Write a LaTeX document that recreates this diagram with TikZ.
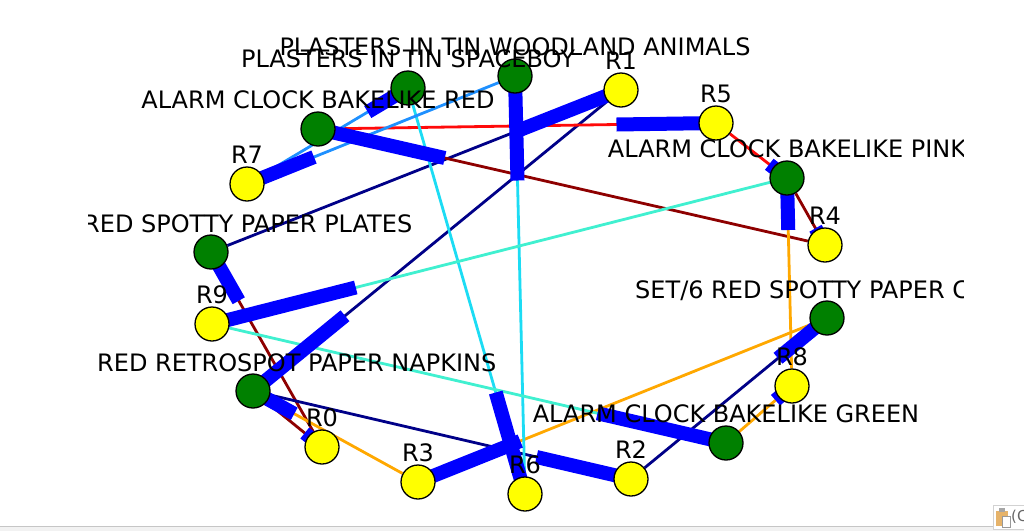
\documentclass[tikz,border=0pt]{standalone}
\usepackage{fontspec}
\setmainfont{DejaVu Sans}
\usepackage{tikz}
\usetikzlibrary{calc,positioning}
\definecolor{itemc}{HTML}{008000}
\definecolor{rulec}{HTML}{FFFF00}
\definecolor{headc}{HTML}{0000FF}
\definecolor{jnavy}{HTML}{000088}
\definecolor{jsky}{HTML}{1E90FF}
\definecolor{jcyan}{HTML}{1CDCF4}
\definecolor{jturq}{HTML}{40F0D0}
\definecolor{jorange}{HTML}{FFA800}
\definecolor{jred}{HTML}{FF0A0A}
\definecolor{jdark}{HTML}{8E0000}
\definecolor{pastec}{HTML}{E6B36A}
\pgfdeclarelayer{bg}
\pgfsetlayers{bg,main}
\tikzset{
  itm/.style={circle, fill=itemc, draw=black, line width=1.3pt, minimum size=34pt, inner sep=0pt},
  rul/.style={itm, fill=rulec},
  link/.style={line width=2.8pt},
  stub/.style={draw=headc, line width=14pt, line cap=butt},
  lab/.style={text=black, font=\fontsize{24}{28}\selectfont, inner sep=0pt},
}
\def\links{rrn/r0/jdark, r0/rspp/jdark, rspp/r1/jnavy, r1/rrn/jnavy,
  rrn/r2/jnavy, r2/set6/jnavy, set6/r3/jorange, r3/rrn/jorange,
  acp/r4/jdark, r4/acr/jdark, acr/r5/jred, r5/acp/jred,
  ps/r6/jcyan, r6/pw/jcyan, pw/r7/jsky, r7/ps/jsky,
  acg/r8/jorange, r8/acp/jorange, acp/r9/jturq, r9/acg/jturq}
\begin{document}
\begin{tikzpicture}[x=1pt,y=-1pt]
  \useasboundingbox (0,0) rectangle (1024,531);

  \begin{scope}
  \clip (88,0) rectangle (963,531);
  % items
  \node[itm] (pw)   at (515,76)  {};
  \node[itm] (ps)   at (408,88)  {};
  \node[itm] (acr)  at (318,129) {};
  \node[itm] (acp)  at (787,178) {};
  \node[itm] (rspp) at (211,252) {};
  \node[itm] (set6) at (827,318) {};
  \node[itm] (rrn)  at (253,391) {};
  \node[itm] (acg)  at (726,443) {};
  % rules
  \node[rul] (r0) at (322,447) {};
  \node[rul] (r1) at (621,90)  {};
  \node[rul] (r2) at (631,479) {};
  \node[rul] (r3) at (418,482) {};
  \node[rul] (r4) at (825,245) {};
  \node[rul] (r5) at (716,123) {};
  \node[rul] (r6) at (525,494) {};
  \node[rul] (r7) at (247,184) {};
  \node[rul] (r8) at (792,386) {};
  \node[rul] (r9) at (212,324) {};

  \foreach \n in {0,...,9}
    \node[lab, above=2.5pt of r\n] (r\n t) {R\n};
  \node[lab, above=2.5pt of pw]  (pwt)  {PLASTERS IN TIN WOODLAND ANIMALS};
  \node[lab, above=2.5pt of ps]  (pst)  {PLASTERS IN TIN SPACEBOY};
  \node[lab, above=2.5pt of acr] (acrt) {ALARM CLOCK BAKELIKE RED};
  \node[lab, above=2.5pt of acp] (acpt) {ALARM CLOCK BAKELIKE PINK};
  \node[lab, above=2.5pt of acg] (acgt) {ALARM CLOCK BAKELIKE GREEN};
  \node[lab, anchor=base west] (rsppt) at (83,232)  {RED SPOTTY PAPER PLATES};
  \node[lab, anchor=base west] (rrnt)  at (97,371)  {RED RETROSPOT PAPER NAPKINS};
  \node[lab, anchor=base west] (set6t) at (635,298) {SET/6 RED SPOTTY PAPER C};
  \end{scope}

  \begin{pgfonlayer}{bg}
    \fill[white] (0,0) rectangle (1024,531);
    \foreach \s/\t/\c in \links
      \draw[link,\c] (\s) -- (\t);
    \foreach \s/\t/\c in \links
      \draw[stub] ($(\s)!0.75!(\t)$) -- (\t.center);
  \end{pgfonlayer}

  \fill[gray!10] (0,527) rectangle (1024,531);
  \draw[gray!45, line width=1.5pt] (0,526.5) -- (1024,526.5);
  \node[draw=gray!35, fill=white, minimum width=33pt, minimum height=24pt, inner sep=0pt, anchor=north west] (paste) at (993,505) {};
  \fill[pastec] (996,511) rectangle (1008,526);
  \fill[gray!70] (999,508) rectangle (1005,512);
  \filldraw[fill=white, draw=gray!80, line width=0.6pt] (1002,516) rectangle (1010,527);
  \node[font=\fontsize{15}{16}\selectfont, text=gray!80!black, anchor=west, inner sep=0pt] (pastet) at (1011,517) {(C};
\end{tikzpicture}
\end{document}
